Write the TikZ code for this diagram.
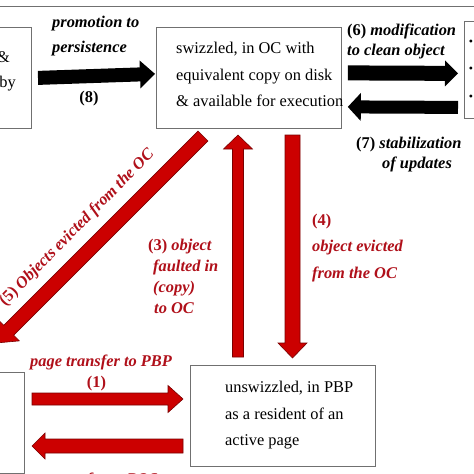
\documentclass[tikz,border=0pt]{standalone}
\usepackage{fontspec}
\setmainfont{Liberation Serif}
\usetikzlibrary{calc}
\definecolor{arrred}{HTML}{CC0000}
\definecolor{arrdark}{HTML}{7A0000}
\definecolor{txtred}{HTML}{B0101A}
\definecolor{boxgray}{HTML}{707070}
\newcommand\blockarrow[6]{%
  \coordinate (ba-h) at ($(#3)!#6!(#2)$);
  \path[#1] ($(#2)!#4!90:(#3)$) -- ($(ba-h)!#4!-90:(#2)$) -- ($(ba-h)!#5!-90:(#2)$) -- (#3)
    -- ($(ba-h)!#5!90:(#2)$) -- ($(ba-h)!#4!90:(#2)$) -- ($(#2)!#4!-90:(#3)$) -- cycle;
}
\begin{document}
\begin{tikzpicture}[x=1pt,y=-1pt,
  box/.style={draw=boxgray, line width=0.8pt, inner sep=0pt},
  txt/.style={inner sep=0pt, font=\fontsize{16.4}{26.5}\selectfont, align=left},
  lbl/.style={inner sep=0pt, align=left, font=\fontsize{16.4}{20.5}\selectfont\bfseries\itshape},
  rlbl/.style={lbl, text=txtred},
  blk/.style={fill=black},
  redarr/.style={fill=arrred, draw=arrdark, line width=0.6pt, line join=miter}]
\path[use as bounding box, clip] (0,0) rectangle (474,474);
\fill[white] (0,0) rectangle (474,474);
\draw[boxgray, line width=1pt] (0,6) -- (474,6);

% boxes
\node[box, minimum width=92pt, minimum height=101pt, anchor=north east] (lefttop) at (32,27) {};
\node[box, minimum width=185pt, minimum height=101pt, anchor=north west] (oc) at (156,27) {};
\node[box, minimum width=80pt, minimum height=97pt, anchor=north west] (righttop) at (464,21) {};
\node[box, minimum width=185pt, minimum height=101pt, anchor=north west] (pbp) at (190,365) {};
\node[box, minimum width=85pt, minimum height=101pt, anchor=north east] (leftbot) at (25,372) {};

% box texts
\node[txt, anchor=base east] (ltA) at (10,62) {\&};
\node[txt, anchor=base east] (ltB) at (16,87) {by};
\node[txt, anchor=north west] (octext) at (176,42) {swizzled, in OC with\\equivalent copy on disk\\\& available for execution};
\node[txt, anchor=north west] (pbptext) at (225,381) {unswizzled, in PBP\\as a resident of an\\active page};
\node[inner sep=0pt, font=\fontsize{12}{12}\selectfont] (b1) at (471,43) {\textbullet};
\node[inner sep=0pt, font=\fontsize{12}{12}\selectfont] (b2) at (471,70) {\textbullet};
\node[inner sep=0pt, font=\fontsize{12}{12}\selectfont] (b3) at (471,98) {\textbullet};

% arrow end points
\coordinate (a8s) at ($(lefttop.east)+(6,0)$);
\coordinate (a8e) at ($(oc.west)+(-1,-4)$);
\coordinate (a6s) at ($(oc.east)+(6,-5)$);
\coordinate (a6e) at ($(righttop.west)+(-6,3.5)$);
\coordinate (a7s) at ($(righttop.west)+(-6,37.5)$);
\coordinate (a7e) at ($(oc.east)+(6,29)$);
\coordinate (a3s) at (238,357);
\coordinate (a3e) at (238,135);
\coordinate (a4s) at (292.5,135);
\coordinate (a4e) at (292.5,358);
\coordinate (a5s) at (203,136);
\coordinate (a5e) at (-4,343);
\coordinate (a1s) at (32,399);
\coordinate (a1e) at (183,399);
\coordinate (a2s) at (183,446);
\coordinate (a2e) at (32,446);

% black arrows
\blockarrow{blk}{a8s}{a8e}{7pt}{14pt}{15pt}
\blockarrow{blk}{a6s}{a6e}{7.5pt}{13pt}{13pt}
\blockarrow{blk}{a7s}{a7e}{6.5pt}{14pt}{13pt}
% red arrows
\blockarrow{redarr}{a3s}{a3e}{5.5pt}{14.5pt}{14pt}
\blockarrow{redarr}{a4s}{a4e}{7.5pt}{14.5pt}{15pt}
\blockarrow{redarr}{a5s}{a5e}{7pt}{15pt}{18pt}
\blockarrow{redarr}{a1s}{a1e}{6pt}{13.5pt}{15pt}
\blockarrow{redarr}{a2s}{a2e}{7pt}{13pt}{13pt}

% labels
\node[lbl, anchor=base west] (l8a) at (52,27) {promotion to};
\node[lbl, anchor=base west] (l8b) at (52,52) {persistence};
\node[lbl, anchor=base] (l8c) at (89,102) {\textup{(8)}};
\node[lbl, anchor=base west] (l6a) at (347,35) {\textup{(6)} modification};
\node[lbl, anchor=base west] (l6b) at (347,55) {to clean object};
\node[lbl, anchor=base west] (l7a) at (356,148) {\textup{(7)} stabilization};
\node[lbl, anchor=base west] (l7b) at (382,168) {of updates};
\node[rlbl, anchor=base west] (l3a) at (148,250) {\textup{(3)} object};
\node[rlbl, anchor=base west] (l3b) at (153,271) {faulted in};
\node[rlbl, anchor=base west] (l3c) at (153,292) {(copy)};
\node[rlbl, anchor=base west] (l3d) at (154,313) {to OC};
\node[rlbl, anchor=base west] (l4a) at (312,225) {\textup{(4)}};
\node[rlbl, anchor=base west] (l4b) at (312,251) {object evicted};
\node[rlbl, anchor=base west] (l4c) at (312,278) {from the OC};
\node[rlbl, anchor=base west] (l1a) at (30,366) {page transfer to PBP};
\node[rlbl, anchor=base] (l1b) at (96.5,387) {\textup{(1)}};
\node[rlbl, anchor=base west] (l2a) at (52,484) {transfer to POS};
\node[rlbl, rotate=45.5] (l5) at (77,228) {\textup{(5)} Objects evicted from the OC};
\end{tikzpicture}
\end{document}
